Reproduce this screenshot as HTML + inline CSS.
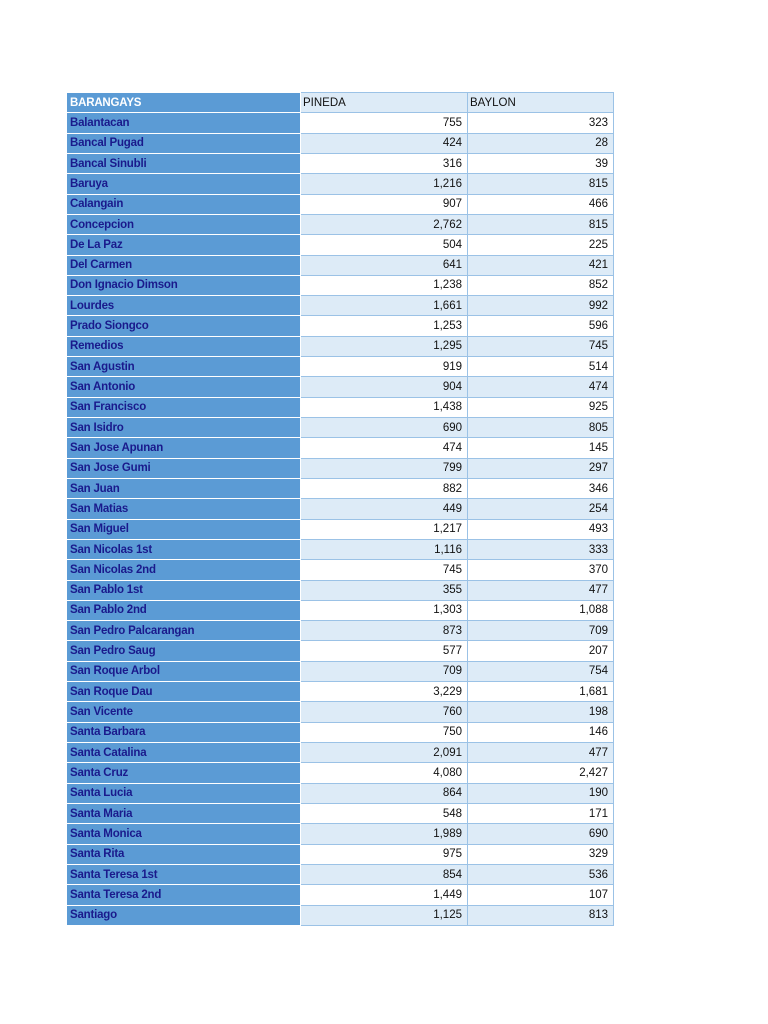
<!DOCTYPE html>
<html><head><meta charset="utf-8"><style>
html,body{margin:0;padding:0;background:#fff;width:768px;height:1024px;overflow:hidden}
table{position:absolute;left:67px;top:92px;border-collapse:collapse;table-layout:fixed;width:546px;height:834px;font-family:"Liberation Sans",sans-serif;font-size:11.5px}
td{padding:0 3px 0 2px;height:18px;line-height:12px;white-space:nowrap;overflow:hidden;border:1px solid #9bc2e6;color:#111}
td:first-child{background:#5b9bd5;color:#1a1a8c;font-weight:bold;border:1px solid #fff;border-left:1px solid #5b9bd5;letter-spacing:-0.2px}
tr:nth-child(even) td:not(:first-child){background:#fff}
tr:nth-child(odd) td:not(:first-child){background:#ddebf7}
td.n{text-align:right;padding-right:5px}
tr.h td:first-child{color:#fff}
</style></head><body>
<table>
<colgroup><col style="width:233px"><col style="width:167px"><col style="width:146px"></colgroup>
<tr class="h"><td>BARANGAYS</td><td>PINEDA</td><td>BAYLON</td></tr>
<tr><td>Balantacan</td><td class="n">755</td><td class="n">323</td></tr>
<tr><td>Bancal Pugad</td><td class="n">424</td><td class="n">28</td></tr>
<tr><td>Bancal Sinubli</td><td class="n">316</td><td class="n">39</td></tr>
<tr><td>Baruya</td><td class="n">1,216</td><td class="n">815</td></tr>
<tr><td>Calangain</td><td class="n">907</td><td class="n">466</td></tr>
<tr><td>Concepcion</td><td class="n">2,762</td><td class="n">815</td></tr>
<tr><td>De La Paz</td><td class="n">504</td><td class="n">225</td></tr>
<tr><td>Del Carmen</td><td class="n">641</td><td class="n">421</td></tr>
<tr><td>Don Ignacio Dimson</td><td class="n">1,238</td><td class="n">852</td></tr>
<tr><td>Lourdes</td><td class="n">1,661</td><td class="n">992</td></tr>
<tr><td>Prado Siongco</td><td class="n">1,253</td><td class="n">596</td></tr>
<tr><td>Remedios</td><td class="n">1,295</td><td class="n">745</td></tr>
<tr><td>San Agustin</td><td class="n">919</td><td class="n">514</td></tr>
<tr><td>San Antonio</td><td class="n">904</td><td class="n">474</td></tr>
<tr><td>San Francisco</td><td class="n">1,438</td><td class="n">925</td></tr>
<tr><td>San Isidro</td><td class="n">690</td><td class="n">805</td></tr>
<tr><td>San Jose Apunan</td><td class="n">474</td><td class="n">145</td></tr>
<tr><td>San Jose Gumi</td><td class="n">799</td><td class="n">297</td></tr>
<tr><td>San Juan</td><td class="n">882</td><td class="n">346</td></tr>
<tr><td>San Matias</td><td class="n">449</td><td class="n">254</td></tr>
<tr><td>San Miguel</td><td class="n">1,217</td><td class="n">493</td></tr>
<tr><td>San Nicolas 1st</td><td class="n">1,116</td><td class="n">333</td></tr>
<tr><td>San Nicolas 2nd</td><td class="n">745</td><td class="n">370</td></tr>
<tr><td>San Pablo 1st</td><td class="n">355</td><td class="n">477</td></tr>
<tr><td>San Pablo 2nd</td><td class="n">1,303</td><td class="n">1,088</td></tr>
<tr><td>San Pedro Palcarangan</td><td class="n">873</td><td class="n">709</td></tr>
<tr><td>San Pedro Saug</td><td class="n">577</td><td class="n">207</td></tr>
<tr><td>San Roque Arbol</td><td class="n">709</td><td class="n">754</td></tr>
<tr><td>San Roque Dau</td><td class="n">3,229</td><td class="n">1,681</td></tr>
<tr><td>San Vicente</td><td class="n">760</td><td class="n">198</td></tr>
<tr><td>Santa Barbara</td><td class="n">750</td><td class="n">146</td></tr>
<tr><td>Santa Catalina</td><td class="n">2,091</td><td class="n">477</td></tr>
<tr><td>Santa Cruz</td><td class="n">4,080</td><td class="n">2,427</td></tr>
<tr><td>Santa Lucia</td><td class="n">864</td><td class="n">190</td></tr>
<tr><td>Santa Maria</td><td class="n">548</td><td class="n">171</td></tr>
<tr><td>Santa Monica</td><td class="n">1,989</td><td class="n">690</td></tr>
<tr><td>Santa Rita</td><td class="n">975</td><td class="n">329</td></tr>
<tr><td>Santa Teresa 1st</td><td class="n">854</td><td class="n">536</td></tr>
<tr><td>Santa Teresa 2nd</td><td class="n">1,449</td><td class="n">107</td></tr>
<tr><td>Santiago</td><td class="n">1,125</td><td class="n">813</td></tr>
</table>
</body></html>
